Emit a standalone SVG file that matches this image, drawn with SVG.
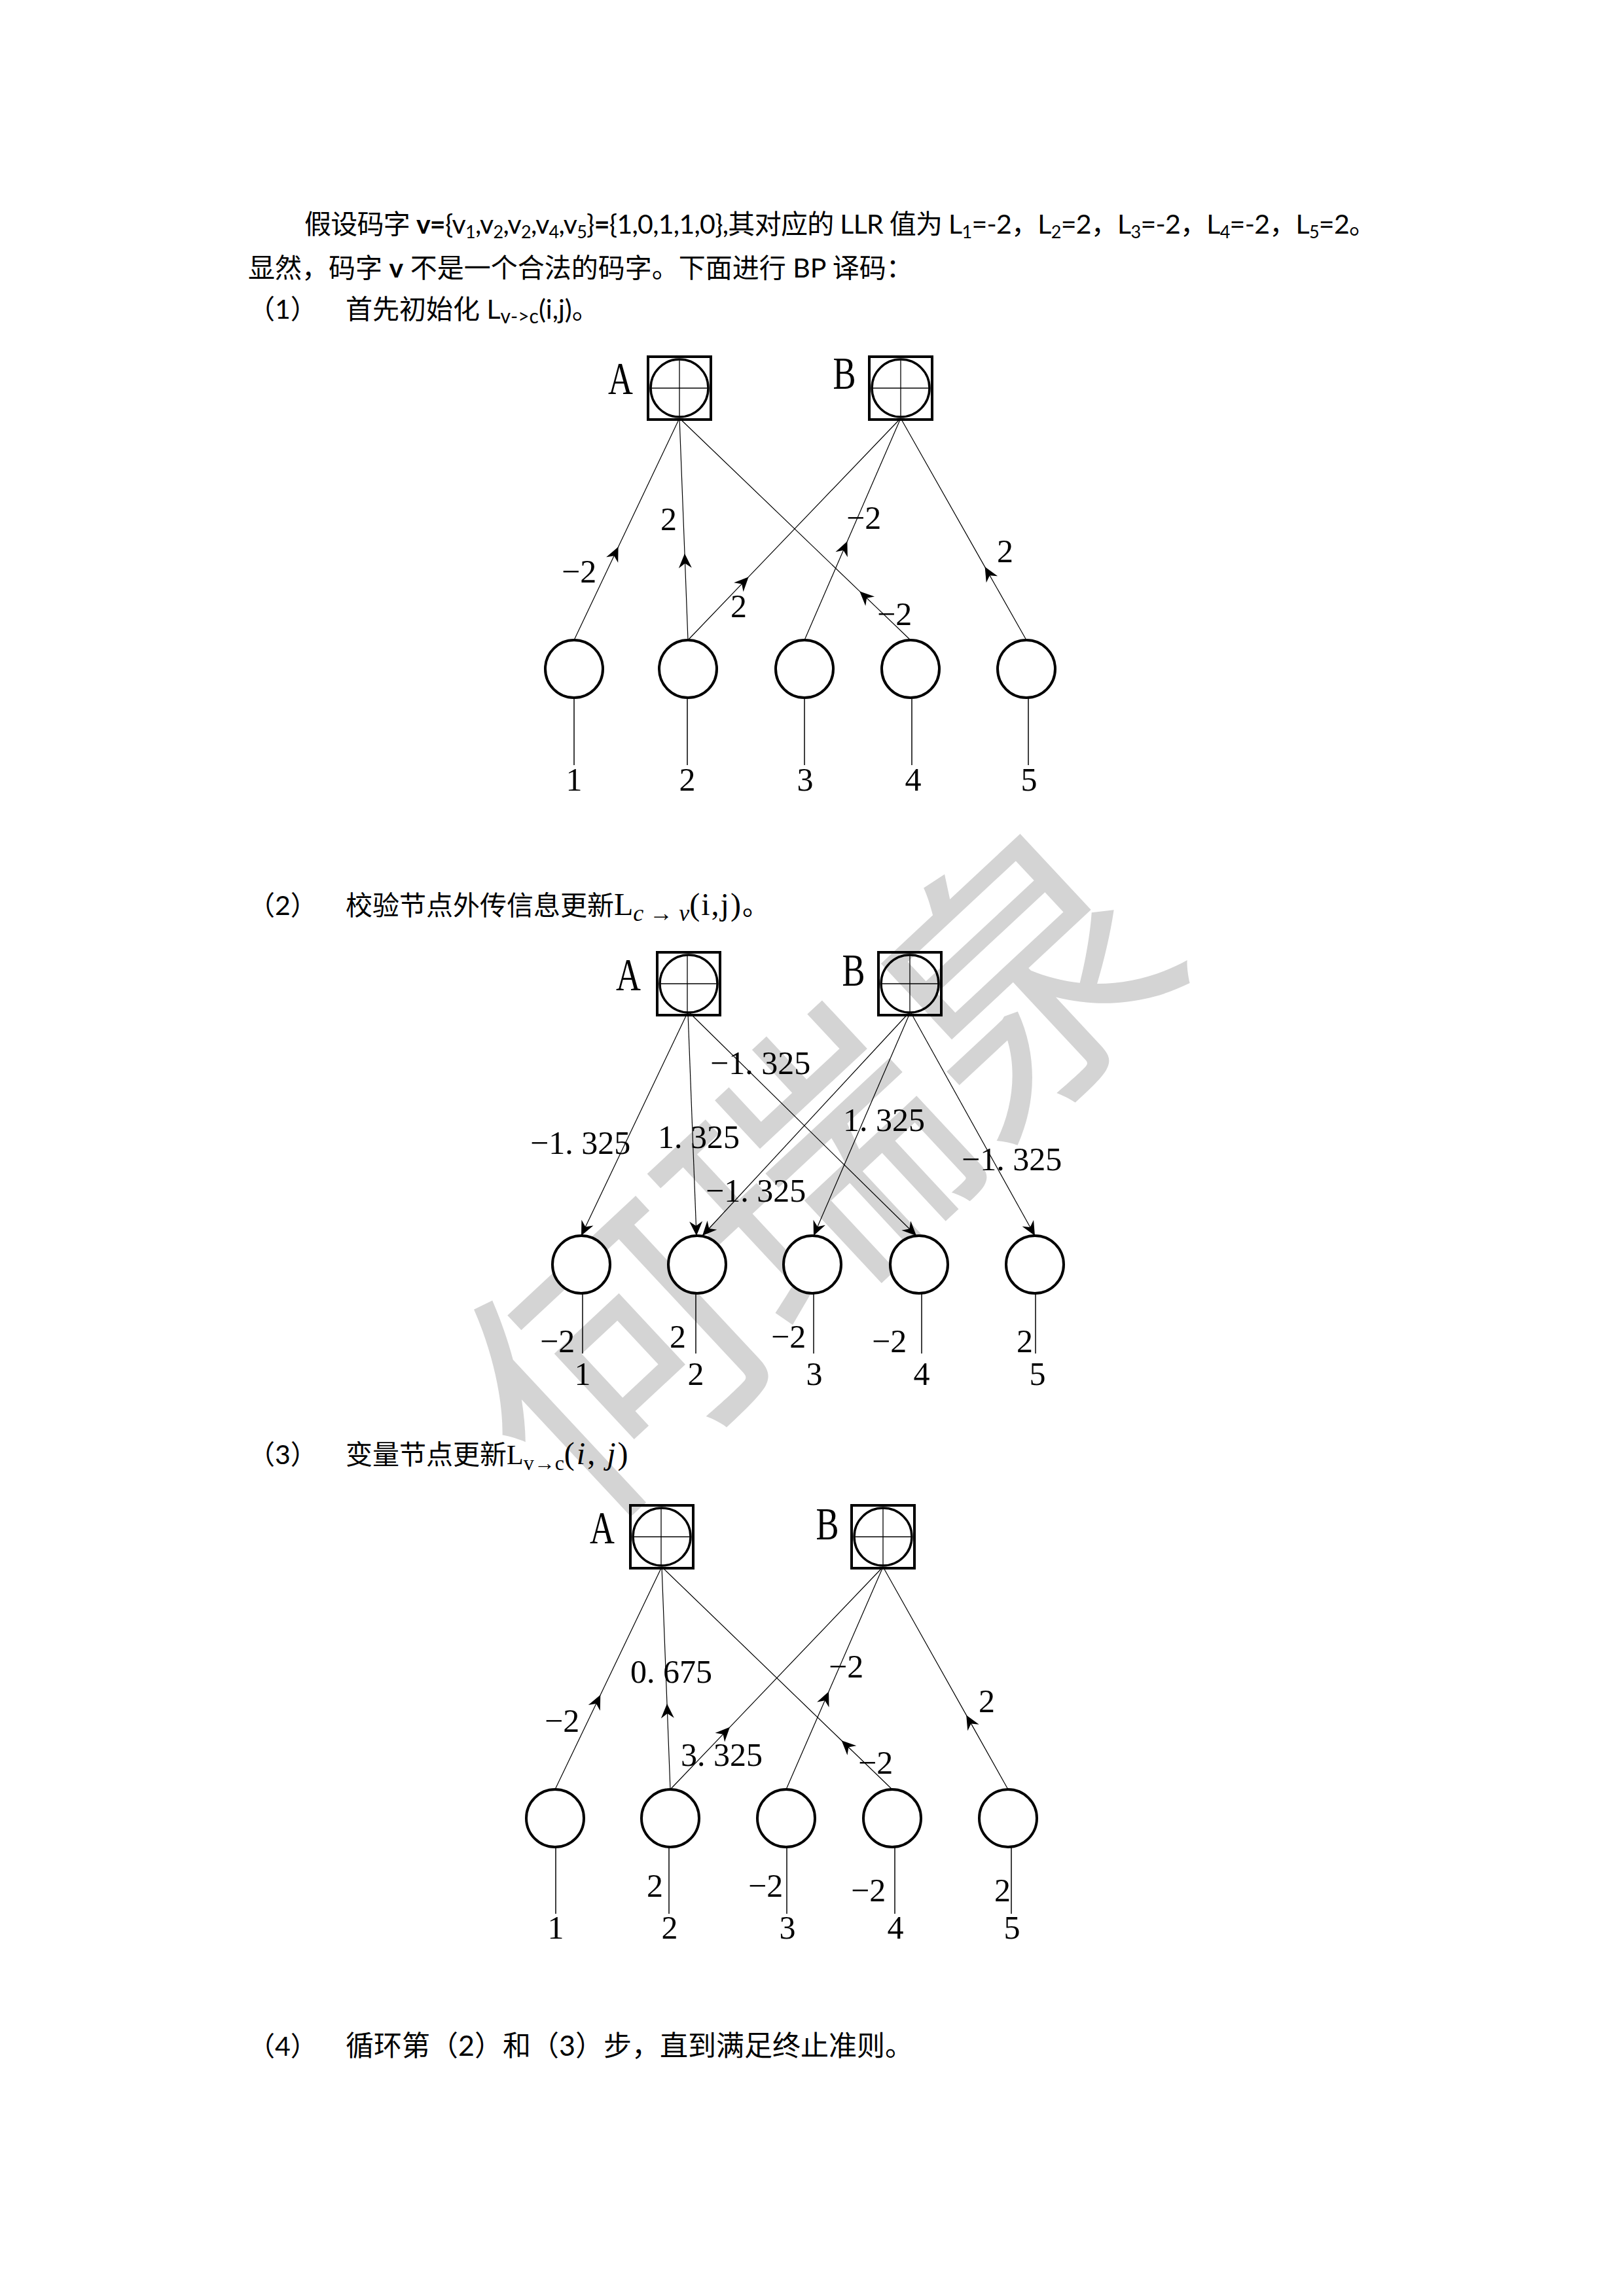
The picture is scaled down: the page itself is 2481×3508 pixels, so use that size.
<svg xmlns="http://www.w3.org/2000/svg" width="2481" height="3508" viewBox="0 0 2481 3508">
<defs>
<style>
.body{font-family:Lato,"Noto Sans CJK SC",sans-serif;font-size:41px;fill:#000}
.ser{font-family:"Liberation Serif","DejaVu Serif",serif}
.lbl{font-family:"Liberation Serif","DejaVu Serif",serif;font-size:50px;fill:#000}
.num{font-family:"Liberation Serif","DejaVu Serif",serif;font-size:50px;fill:#000;text-anchor:middle}
.cap{font-family:"Liberation Serif","DejaVu Serif",serif;font-size:70px;fill:#000;text-anchor:middle}
.box{fill:none;stroke:#000;stroke-width:4}
.ring{fill:none;stroke:#000;stroke-width:3.5}
.cross{stroke:#000;stroke-width:1.3}
.vc{fill:#fff;stroke:#000;stroke-width:4}
.stem{stroke:#000;stroke-width:1.5}
.edge{fill:none;stroke:#000;stroke-width:1.2}
.up{marker-mid:url(#ah)}
.down{marker-end:url(#ah)}
.wm{font-family:"Noto Sans CJK SC",sans-serif;font-weight:400;font-size:430px;fill:#d4d4d4}
</style>
<marker id="ah" viewBox="-23 -11 24 22" refX="0" refY="0" markerWidth="24" markerHeight="22" markerUnits="userSpaceOnUse" orient="auto">
<path d="M0,0 L-22,-10 L-15,0 L-22,10 Z" fill="#000"/>
</marker>
</defs>
<rect width="2481" height="3508" fill="#fff"/>

<g id="watermark">
<text class="wm" transform="translate(1230,1766) rotate(-43)" text-anchor="middle" dominant-baseline="central">何瑞泉</text>
</g>

<g id="paragraphs" class="body">
<text x="465" y="357" textLength="1637" lengthAdjust="spacing">假设码字 <tspan font-weight="bold">v=</tspan>{v<tspan font-size="27" dy="7">1</tspan><tspan dy="-7">,v</tspan><tspan font-size="27" dy="7">2</tspan><tspan dy="-7">,v</tspan><tspan font-size="27" dy="7">2</tspan><tspan dy="-7">,v</tspan><tspan font-size="27" dy="7">4</tspan><tspan dy="-7">,v</tspan><tspan font-size="27" dy="7">5</tspan><tspan dy="-7">}</tspan><tspan font-weight="bold">=</tspan>{1,0,1,1,0},其对应的 LLR 值为 L<tspan font-size="27" dy="7">1</tspan><tspan dy="-7">=-2，L</tspan><tspan font-size="27" dy="7">2</tspan><tspan dy="-7">=2，L</tspan><tspan font-size="27" dy="7">3</tspan><tspan dy="-7">=-2，L</tspan><tspan font-size="27" dy="7">4</tspan><tspan dy="-7">=-2，L</tspan><tspan font-size="27" dy="7">5</tspan><tspan dy="-7">=2。</tspan></text>
<text x="379" y="424">显然，码字 <tspan font-weight="bold">v</tspan> 不是一个合法的码字。下面进行 BP 译码：</text>
<text x="379" y="487">（1）</text>
<text x="528" y="487">首先初始化 L<tspan font-size="30" dy="7">v-&gt;c</tspan><tspan dy="-7">(i,j)。</tspan></text>
<text x="379" y="1398">（2）</text>
<text x="528" y="1398">校验节点外传信息更新<tspan class="ser" font-size="48">L</tspan><tspan class="ser" font-style="italic" font-size="36" dy="9">c → v</tspan><tspan class="ser" font-size="48" letter-spacing="2" dy="-9">(i,j)</tspan>。</text>
<text x="379" y="2237">（3）</text>
<text x="528" y="2237">变量节点更新<tspan class="ser" font-size="42">L</tspan><tspan class="ser" font-size="32" dy="9">v→c</tspan><tspan class="ser" font-size="48" letter-spacing="3" dy="-9">(<tspan font-style="italic">i</tspan>, <tspan font-style="italic">j</tspan>)</tspan></text>
<text x="379" y="3141">（4）</text>
<text x="528" y="3141" font-size="43">循环第（2）和（3）步，直到满足终止准则。</text>
</g>

<!-- ===== Diagram 1 ===== -->
<g id="d1-connectors">
<polyline class="edge up" points="877,978 944.6,835.6 1038,639"/>
<polyline class="edge up" points="1051,978 1046,845.8 1038,639"/>
<polyline class="edge up" points="1391,978 1313.3,903.4 1038,639"/>
<polyline class="edge up" points="1051,978 1143.6,881.4 1376,639"/>
<polyline class="edge up" points="1229,978 1294.4,827.1 1376,639"/>
<polyline class="edge up" points="1568,978 1504.6,866.1 1376,639"/>
<text class="lbl" x="858" y="890">−2</text>
<text class="lbl" x="1009" y="810">2</text>
<text class="lbl" x="1340" y="955">−2</text>
<text class="lbl" x="1116" y="943">2</text>
<text class="lbl" x="1293" y="808">−2</text>
<text class="lbl" x="1523" y="859">2</text>
</g>
<g id="d1-A">
<rect class="box" x="990" y="545" width="96" height="96"/>
<circle class="ring" cx="1038" cy="593" r="44"/>
<line class="cross" x1="1038" y1="549" x2="1038" y2="637"/>
<line class="cross" x1="994" y1="593" x2="1082" y2="593"/>
<text class="cap" transform="translate(948,602) scale(0.75,1)">A</text>
</g>
<g id="d1-B">
<rect class="box" x="1328" y="545" width="96" height="96"/>
<circle class="ring" cx="1376" cy="593" r="44"/>
<line class="cross" x1="1376" y1="549" x2="1376" y2="637"/>
<line class="cross" x1="1332" y1="593" x2="1420" y2="593"/>
<text class="cap" transform="translate(1290,594) scale(0.75,1)">B</text>
</g>
<g id="d1-v1"><circle class="vc" cx="877" cy="1022" r="44"/><line class="stem" x1="877" y1="1066" x2="877" y2="1169"/><text class="num" x="877" y="1208">1</text></g>
<g id="d1-v2"><circle class="vc" cx="1051" cy="1022" r="44"/><line class="stem" x1="1050" y1="1066" x2="1050" y2="1169"/><text class="num" x="1050" y="1208">2</text></g>
<g id="d1-v3"><circle class="vc" cx="1229" cy="1022" r="44"/><line class="stem" x1="1229" y1="1066" x2="1229" y2="1169"/><text class="num" x="1230" y="1208">3</text></g>
<g id="d1-v4"><circle class="vc" cx="1391" cy="1022" r="44"/><line class="stem" x1="1393" y1="1066" x2="1393" y2="1169"/><text class="num" x="1395" y="1208">4</text></g>
<g id="d1-v5"><circle class="vc" cx="1568" cy="1022" r="44"/><line class="stem" x1="1571" y1="1066" x2="1571" y2="1169"/><text class="num" x="1572" y="1208">5</text></g>

<!-- ===== Diagram 2 ===== -->
<g id="d2-connectors">
<line class="edge down" x1="1050" y1="1548" x2="888" y2="1888"/>
<line class="edge down" x1="1051" y1="1548" x2="1064" y2="1888"/>
<line class="edge down" x1="1054" y1="1548" x2="1400" y2="1888"/>
<line class="edge down" x1="1388" y1="1548" x2="1073" y2="1888"/>
<line class="edge down" x1="1390" y1="1548" x2="1243" y2="1888"/>
<line class="edge down" x1="1392" y1="1548" x2="1581" y2="1888"/>
<text class="lbl" x="810" y="1763">−1. 325</text>
<text class="lbl" x="1005" y="1754">1. 325</text>
<text class="lbl" x="1085" y="1641">−1. 325</text>
<text class="lbl" x="1078" y="1836">−1. 325</text>
<text class="lbl" x="1288" y="1728">1. 325</text>
<text class="lbl" x="1469" y="1788">−1. 325</text>
</g>
<g id="d2-A">
<rect class="box" x="1004" y="1455" width="96" height="96"/>
<circle class="ring" cx="1052" cy="1503" r="44"/>
<line class="cross" x1="1050" y1="1459" x2="1050" y2="1547"/>
<line class="cross" x1="1008" y1="1503" x2="1096" y2="1503"/>
<text class="cap" transform="translate(960,1513) scale(0.75,1)">A</text>
</g>
<g id="d2-B">
<rect class="box" x="1342" y="1455" width="96" height="96"/>
<circle class="ring" cx="1390" cy="1503" r="44"/>
<line class="cross" x1="1390" y1="1459" x2="1390" y2="1547"/>
<line class="cross" x1="1346" y1="1503" x2="1434" y2="1503"/>
<text class="cap" transform="translate(1304,1506) scale(0.75,1)">B</text>
</g>
<g id="d2-v1"><circle class="vc" cx="888" cy="1932" r="44"/><line class="stem" x1="890" y1="1976" x2="890" y2="2068"/><text class="lbl" x="825" y="2066">−2</text><text class="num" x="890" y="2116">1</text></g>
<g id="d2-v2"><circle class="vc" cx="1065" cy="1932" r="44"/><line class="stem" x1="1063" y1="1976" x2="1063" y2="2068"/><text class="lbl" x="1023" y="2059">2</text><text class="num" x="1063" y="2116">2</text></g>
<g id="d2-v3"><circle class="vc" cx="1241" cy="1932" r="44"/><line class="stem" x1="1243" y1="1976" x2="1243" y2="2068"/><text class="lbl" x="1178" y="2059">−2</text><text class="num" x="1244" y="2116">3</text></g>
<g id="d2-v4"><circle class="vc" cx="1404" cy="1932" r="44"/><line class="stem" x1="1408" y1="1976" x2="1408" y2="2068"/><text class="lbl" x="1332" y="2066">−2</text><text class="num" x="1408" y="2116">4</text></g>
<g id="d2-v5"><circle class="vc" cx="1581" cy="1932" r="44"/><line class="stem" x1="1582" y1="1976" x2="1582" y2="2068"/><text class="lbl" x="1553" y="2066">2</text><text class="num" x="1585" y="2116">5</text></g>

<!-- ===== Diagram 3 ===== -->
<g id="d3-connectors">
<polyline class="edge up" points="848,2734 917.3,2589.5 1011,2394"/>
<polyline class="edge up" points="1024,2734 1019,2603.1 1011,2394"/>
<polyline class="edge up" points="1363,2734 1285.6,2659.2 1011,2394"/>
<polyline class="edge up" points="1024,2734 1115,2638.8 1349,2394"/>
<polyline class="edge up" points="1201,2734 1266.1,2584.4 1349,2394"/>
<polyline class="edge up" points="1540,2734 1476.2,2620.4 1349,2394"/>
<text class="lbl" x="832" y="2646">−2</text>
<text class="lbl" x="963" y="2571">0. 675</text>
<text class="lbl" x="1311" y="2710">−2</text>
<text class="lbl" x="1040" y="2698">3. 325</text>
<text class="lbl" x="1266" y="2563">−2</text>
<text class="lbl" x="1495" y="2616">2</text>
</g>
<g id="d3-A">
<rect class="box" x="963" y="2300" width="96" height="96"/>
<circle class="ring" cx="1011" cy="2348" r="44"/>
<line class="cross" x1="1010" y1="2304" x2="1010" y2="2392"/>
<line class="cross" x1="967" y1="2348" x2="1055" y2="2348"/>
<text class="cap" transform="translate(920,2358) scale(0.75,1)">A</text>
</g>
<g id="d3-B">
<rect class="box" x="1301" y="2300" width="96" height="96"/>
<circle class="ring" cx="1349" cy="2348" r="44"/>
<line class="cross" x1="1349" y1="2304" x2="1349" y2="2392"/>
<line class="cross" x1="1305" y1="2348" x2="1393" y2="2348"/>
<text class="cap" transform="translate(1264,2352) scale(0.75,1)">B</text>
</g>
<g id="d3-v1"><circle class="vc" cx="848" cy="2778" r="44"/><line class="stem" x1="849" y1="2822" x2="849" y2="2924"/><text class="num" x="849" y="2962">1</text></g>
<g id="d3-v2"><circle class="vc" cx="1024" cy="2778" r="44"/><line class="stem" x1="1022" y1="2822" x2="1022" y2="2924"/><text class="lbl" x="988" y="2898">2</text><text class="num" x="1023" y="2962">2</text></g>
<g id="d3-v3"><circle class="vc" cx="1201" cy="2778" r="44"/><line class="stem" x1="1202" y1="2822" x2="1202" y2="2924"/><text class="lbl" x="1143" y="2898">−2</text><text class="num" x="1203" y="2962">3</text></g>
<g id="d3-v4"><circle class="vc" cx="1363" cy="2778" r="44"/><line class="stem" x1="1367" y1="2822" x2="1367" y2="2924"/><text class="lbl" x="1300" y="2905">−2</text><text class="num" x="1368" y="2962">4</text></g>
<g id="d3-v5"><circle class="vc" cx="1540" cy="2778" r="44"/><line class="stem" x1="1545" y1="2822" x2="1545" y2="2924"/><text class="lbl" x="1519" y="2905">2</text><text class="num" x="1546" y="2962">5</text></g>
</svg>
